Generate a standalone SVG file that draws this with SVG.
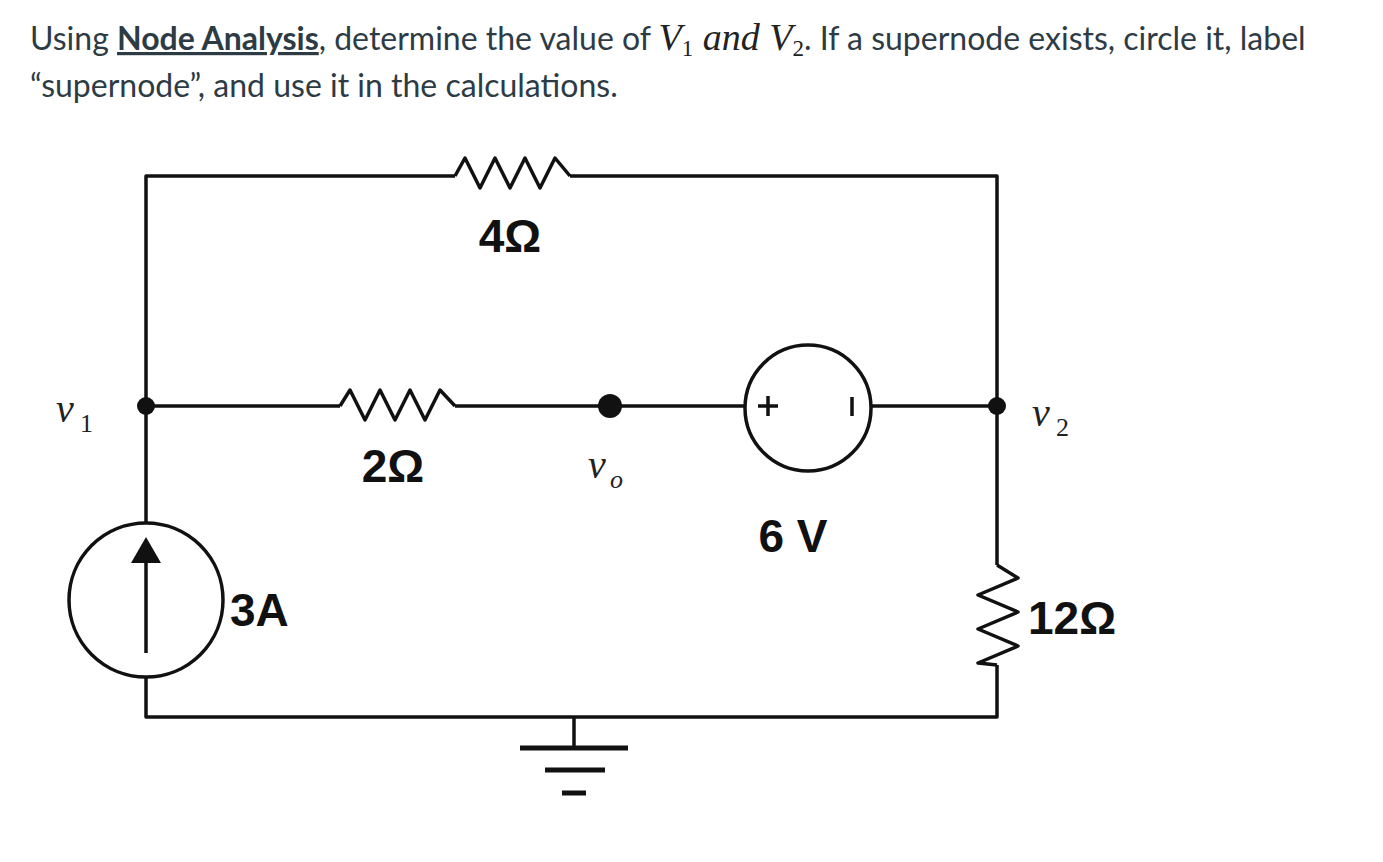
<svg xmlns="http://www.w3.org/2000/svg" width="1383" height="862" viewBox="0 0 1383 862">
<style>
.w{fill:none;stroke:#111;stroke-width:3.5;stroke-linejoin:round}
.t{font-family:Lato,"Noto Sans",sans-serif;font-size:32px;fill:#2d3b45}
.m{font-family:"Liberation Serif",serif;font-style:italic;fill:#222}
.s{font-family:"Liberation Serif",serif;font-style:normal;fill:#222}
.l{font-family:"Liberation Sans",Arial,sans-serif;font-weight:bold;font-size:46px;fill:#111}
</style>
<rect width="1383" height="862" fill="#fff"/>
<text class="t" x="30" y="50">Using <tspan font-weight="bold" text-decoration="underline">Node Analysis</tspan>, determine the value of  <tspan class="m" font-size="38px">V</tspan><tspan class="s" font-size="23px" dy="6">1</tspan><tspan class="m" font-size="38px" dy="-6"> and V</tspan><tspan class="s" font-size="23px" dy="6">2</tspan><tspan dy="-6">. If a supernode exists, circle it, label</tspan></text>
<text class="t" x="30" y="97">“supernode”, and use it in the calculations.</text>
<g id="wires">
<path class="w" d="M146,677 V717 H997 V665 M997,565 V176 H570 M455,176 H146 V523"/>
<path class="w" d="M146,406 H340 M455,406 H745 M871,406 H997"/>
<path class="w" d="M574,717 V748"/>
<path d="M520,748 H628 M545,770 H605 M562,793 H586" stroke="#111" stroke-width="5"/>
</g>
<g id="r4"><path class="w" d="M455,176 L465,158 L480,188 L495,158 L510,188 L525,158 L540,188 L555,158 L570,176"/><text class="l" x="510" y="252" text-anchor="middle">4Ω</text></g>
<g id="r2"><path class="w" d="M340,406 L350,390 L365,420 L380,390 L395,420 L410,390 L425,420 L440,390 L455,406"/><text class="l" x="393" y="482" text-anchor="middle">2Ω</text></g>
<g id="r12"><path class="w" d="M997,565 L1018,578 L978,595 L1018,612 L978,629 L1018,646 L978,663 L997,665"/><text class="l" x="1028" y="634">12Ω</text></g>
<g id="src3A"><circle class="w" cx="146" cy="600" r="77" stroke-width="3"/><path class="w" d="M146,653 V560"/><path d="M131,563 L146,537 L161,563Z" fill="#111"/><text class="l" x="230" y="626">3A</text></g>
<g id="src6V"><circle class="w" cx="808" cy="408" r="63" stroke-width="3"/><path class="w" d="M758,406 H778 M768,396 V416 M852,397 V416" stroke-width="3"/><text class="l" x="793" y="552" text-anchor="middle">6 V</text></g>
<g id="nodes">
<circle cx="146" cy="406" r="9" fill="#111"/><text class="m" x="56" y="422" font-size="40">v</text><text class="s" x="80" y="432" font-size="26">1</text>
<circle cx="610" cy="406" r="12" fill="#111"/><text class="m" x="588" y="478" font-size="40">v</text><text class="m" x="610" y="488" font-size="26">o</text>
<circle cx="997" cy="406" r="9" fill="#111"/><text class="m" x="1032" y="426" font-size="40">v</text><text class="s" x="1056" y="436" font-size="26">2</text>
</g>
</svg>
